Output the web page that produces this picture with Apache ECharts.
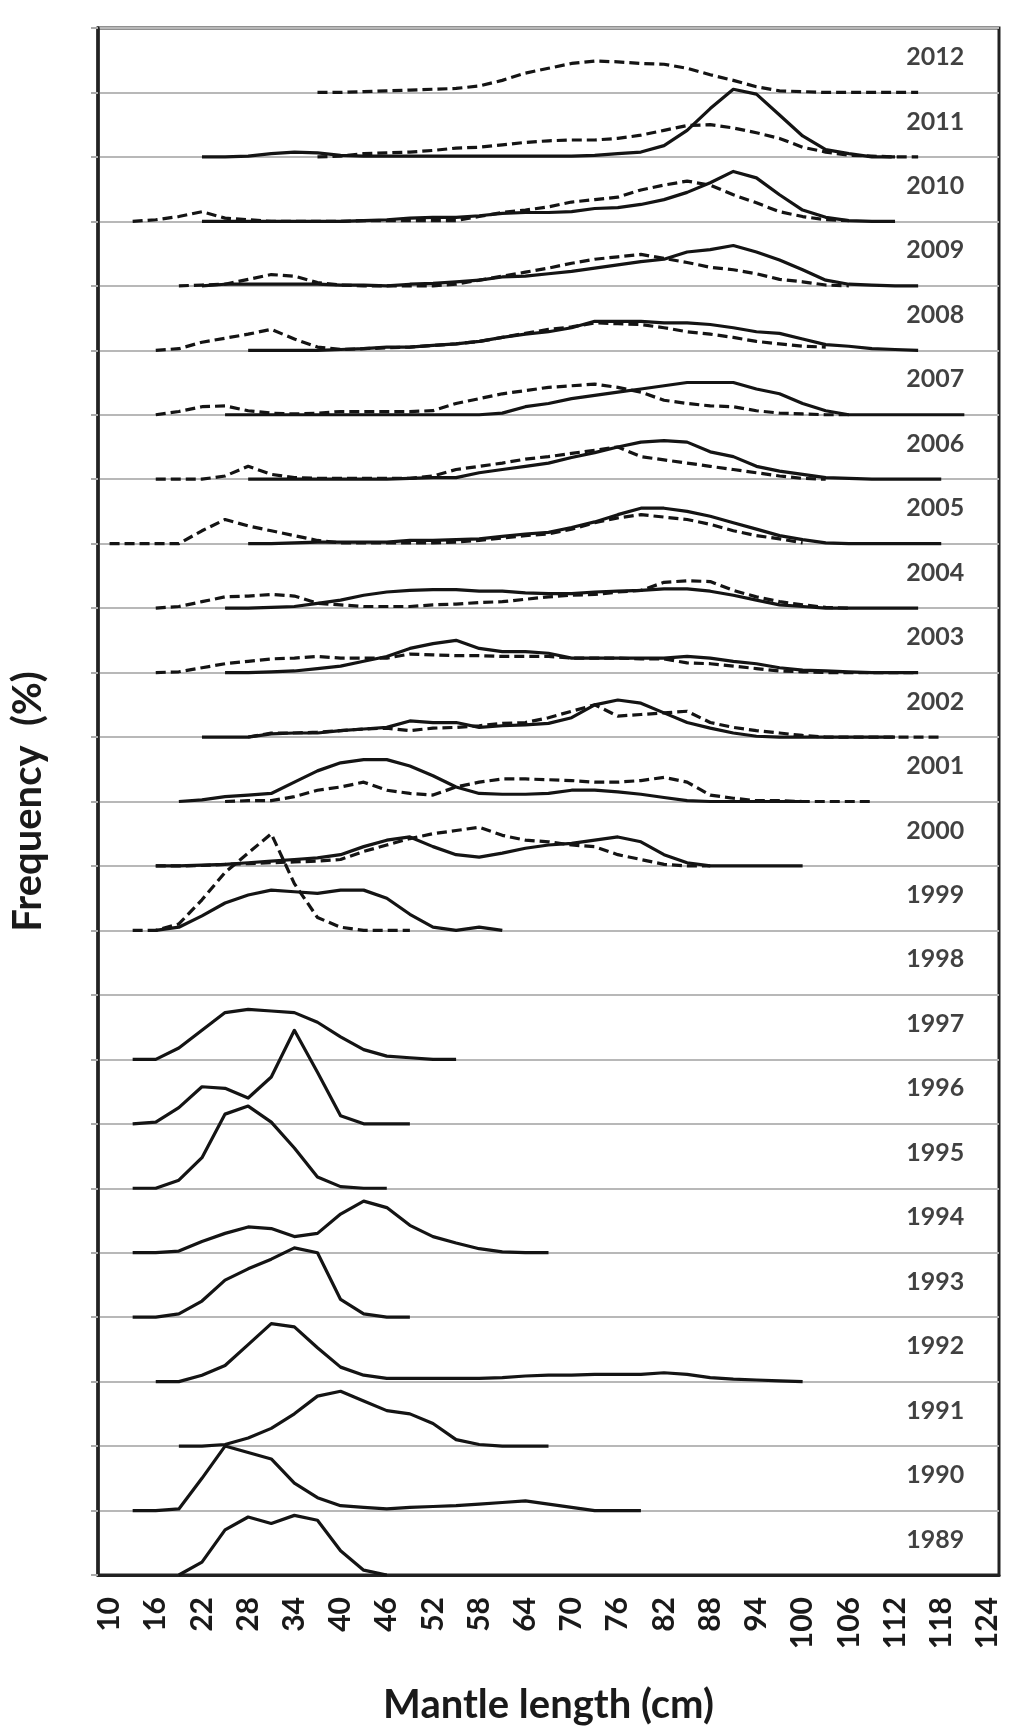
<!DOCTYPE html>
<html>
<head>
<meta charset="utf-8">
<script src="https://cdn.jsdelivr.net/npm/echarts@6/dist/echarts.min.js"></script>
<style>
  html, body { margin: 0; padding: 0; background: #fff; }
  #chart { width: 1020px; height: 1730px; }
</style>
</head>
<body>
<div id="chart"></div>
<script>
// mantle length classes, 3 cm wide
const bins = ['10','13','16','19','22','25','28','31','34','37','40','43','46','49','52','55','58','61','64',
  '67','70','73','76','79','82','85','88','91','94','97','100','103','106','109','112','115','118','121','124']
const years = [1989,1990,1991,1992,1993,1994,1995,1996,1997,1998,1999,2000,
  2001,2002,2003,2004,2005,2006,2007,2008,2009,2010,2011,2012]

// frequency (%) per class, starting at class "from"
const solid1989 = { from: 19, pct: [0,8,28,36,32,37,34,15,3,0] }
const solid1990 = { from: 13, pct: [0,0,1,20,40,36,32,17,8,3,2,1,2,2.5,3,4,5,6,4,2,0,0,0] }
const solid1991 = { from: 19, pct: [0,0,1,5,11,20,31,34,28,22,20,14,4,1,0,0,0] }
const solid1992 = { from: 16, pct: [0,0,4,10,23,36,34,21,9,4,2,2,2,2,2,2.5,3.5,4,4,4.5,4.5,4.5,5.5,4.5,2.5,1.5,1,0.5,0] }
const solid1993 = { from: 13, pct: [0,0,2,10,23,30,36,43,40,11,2,0,0] }
const solid1994 = { from: 13, pct: [0,0,1,7,12,16,15,10,12,24,32,28,17,10,6,2.5,0.5,0,0] }
const solid1995 = { from: 13, pct: [0,0,5,19,46,51,41,25,7,1,0,0] }
const solid1996 = { from: 13, pct: [0,1,10,23,22,16,29,58,32,5,0,0,0] }
const solid1997 = { from: 13, pct: [0,0,7,18,29,31,30,29,23,14,6,2,1,0,0] }
const solid1999 = { from: 16, pct: [0,2,9,17,22,25,24,23,25,25,20,10,2,0,2,0] }
const solid2000 = { from: 16, pct: [0,0,0.5,1,2,3,4,5,7,12,16,18,12,7,5.5,8,11,13,14,16,18,15,7,2,0,0,0,0,0] }
const solid2001 = { from: 19, pct: [0,1,3,4,5,12,19,24,26,26,22,16,9,5,4.5,4.5,5,7,7,6,4.5,2.5,0.5,0,0,0,0,0] }
const solid2002 = { from: 22, pct: [0,0,0,2,2.5,2.5,4,5,6,10,9,9,6,7,7.5,8.5,12,20,23,21,15,9,5.5,2.5,0.5,0,0,0,0,0,0] }
const solid2003 = { from: 25, pct: [0,0,0.5,1,2.5,4,7,10,15,18,20,15,13,13,12,9,9,9,9,9,10,9,7,5.5,3,1.5,1,0.5,0,0,0] }
const solid2004 = { from: 25, pct: [0,0,0.5,1,3,5,8,10,11,11.5,11.5,10.5,10.5,9.5,9,9,10,10.5,11,12,12,10.5,8,5,2,1,0,0,0,0,0] }
const solid2005 = { from: 28, pct: [0,0,0.5,1,1,1,1,2,2,2.5,3,4.5,6,7,10,13.5,18,22,22,20,17,13,9,5,2.5,0.5,0,0,0,0,0] }
const solid2006 = { from: 28, pct: [0,0,0,0,0,0,0,0.5,1,1,4,6,8,10,13.5,16.5,20,23,24,23,17,14,8,5,3,1,0.5,0,0,0,0] }
const solid2007 = { from: 25, pct: [0,0,0,0,0,0,0,0,0,0,0,0,1,5,7,10,12,14,16,18,20,20,20,16,13,7,2.5,0,0,0,0,0,0] }
const solid2008 = { from: 28, pct: [0,0,0,0,0.5,1,2,2,3,4,5.5,8,10,11.5,14,18,18,18,17,17,16,14,11.5,10.5,7,3.5,2.5,1,0.5,0] }
const solid2009 = { from: 22, pct: [0,1,1,1,1,1,0.5,0.5,0,1,1.5,2.5,3.5,5.5,6,7.5,9,11,13,15,16.5,21,22.5,25,21,16,10,3.5,1,0.5,0,0] }
const solid2010 = { from: 22, pct: [0,0,0,0,0,0,0,0.5,1,2,2.5,2.5,3.5,5,5.5,5.5,6,8,8.5,10.5,13.5,18,24,31,27,16.5,7,2.5,0.5,0,0] }
const solid2011 = { from: 22, pct: [0,0,0.5,2,3,2.5,1,0.5,0.5,0.5,0.5,0.5,0.5,0.5,0.5,0.5,0.5,1,2,3,7,16.5,30,42,39,26,13,4.5,2,0,0] }

const dashed1999 = { from: 13, pct: [0,0,4,19,36,48,60,29,8,2,0,0,0] }
const dashed2000 = { from: 16, pct: [0,0,0.3,1,1.5,2,2.5,3,4,9,13,17,20,22,24,19,16,15,13,12,7,4,1,0,0] }
const dashed2001 = { from: 25, pct: [0,0.5,0.5,3,7,9,12,7,5,4,9,12,14,14,13.5,13,12,12,13,15,12,4,2,0.5,0.5,0,0,0,0] }
const dashed2002 = { from: 28, pct: [0,2.5,2.5,3,4,5,5.5,4,5.5,6,7,8.5,9,12,16,20,13,14,15,16,9,6,4,2.5,1,0,0,0,0,0,0] }
const dashed2003 = { from: 16, pct: [0,0.5,3,5.5,7,8.5,9,10,9,9,9,11.5,11,10.5,10.5,10,10,10,9,9,9,8.5,8.5,6,5.5,4,2.5,1,0.5,0,0,0,0,0] }
const dashed2004 = { from: 16, pct: [0,1,4,7,7.5,8.5,7.5,3,2,1,1,1,2,2.5,3.5,4,5.5,7,8,8.5,10,11,16,17,16.5,11,7,4,2,0.5,0] }
const dashed2005 = { from: 10, pct: [0,0,0,0,8,15,11,8,5,2,0.5,0.5,0.5,0.5,0.5,1,2,3.5,5,6,9,13,16,18,16.5,15,12,8,5,3,0.5] }
const dashed2006 = { from: 16, pct: [0,0,0,2,8,3,1,0.5,0.5,0.5,0.5,0.5,2,6,8,10,12.5,14,16,18,20,14,12,10,8,6,4,2,0.5,0] }
const dashed2007 = { from: 16, pct: [0,2,5,5.5,2.5,1,0.5,1,2,2,2,2,2.5,7,10,13,15,17,18,19,17,14,9,7,5.5,5,2.5,1,0.5,0,0] }
const dashed2008 = { from: 16, pct: [0,1,5,7.5,10,13,7,2,0.5,1,1.5,2,3,4,5.5,8,10.5,13,14.5,17,16.5,16,14,11.5,10,8,5.5,4,2.5,2] }
const dashed2009 = { from: 19, pct: [0,0.5,1,4,7,6,2,0.5,0,0,0,0,1,3.5,6,8.5,11,14,16.5,18,19.5,17,14.5,11.5,10,7.5,4,2.5,0.5,0] }
const dashed2010 = { from: 13, pct: [0,1,3,6,2,1,0,0,0,0,0.5,0.5,0.5,0.5,0.5,3,5.5,7,9,12,13.5,15,19.5,22.5,25,22.5,16.5,11.5,6,3,1,0.5] }
const dashed2011 = { from: 37, pct: [0,0.5,2,2.5,3,4,5.5,6,7.5,9,10,10.5,10.5,11.5,13.5,16.5,19.5,20,18,15,11.5,6,3,1,0.5,0,0] }
const dashed2012 = { from: 37, pct: [0,0,0.5,1,1.5,2,2.5,4,7.5,12,15,18,19.5,19,18,17.5,15,11,7.5,3.5,1,0.5,0,0,0,0,0] }

// one entry per year (same order as years), null = no sample
const solidRows = [solid1989, solid1990, solid1991, solid1992, solid1993, solid1994, solid1995, solid1996,
  solid1997, null, solid1999, solid2000, solid2001, solid2002, solid2003, solid2004, solid2005, solid2006,
  solid2007, solid2008, solid2009, solid2010, solid2011, null]
const dashedRows = [null, null, null, null, null, null, null, null, null, null, dashed1999, dashed2000,
  dashed2001, dashed2002, dashed2003, dashed2004, dashed2005, dashed2006, dashed2007, dashed2008,
  dashed2009, dashed2010, dashed2011, dashed2012]

const ROW = 40 // vertical room for one year, in %
const FONT = 'Lato'

// lift a year's curve onto its own baseline
function stackRow(row, level) {
  const out = bins.map(() => null)
  const i0 = bins.indexOf(String(row.from))
  row.pct.forEach((v, k) => { out[i0 + k] = level * ROW + v })
  return out
}

function lineSeries(rows, dash) {
  const list = []
  rows.forEach((row, level) => {
    if (!row) return
    list.push({
      type: 'line',
      data: stackRow(row, level),
      showSymbol: false,
      silent: true,
      connectNulls: false,
      lineStyle: { color: '#141414', width: 3.2, type: dash ? [10, 5] : 'solid', join: 'round' },
      z: 3,
    })
  })
  return list
}

const chart = echarts.init(document.getElementById('chart'))
chart.setOption({
  animation: false,
  backgroundColor: '#fff',
  textStyle: { fontFamily: FONT },
  grid: { left: 70, top: 28, width: 929, height: 1565, show: true, borderColor: '#222', borderWidth: 3 },
  xAxis: {
    type: 'category',
    data: bins,
    boundaryGap: true,
    name: 'Mantle length (cm)',
    nameLocation: 'middle',
    nameGap: 110,
    nameTextStyle: { fontFamily: FONT, fontSize: 40, fontWeight: 'bold', color: '#1a1a1a' },
    axisLine: { lineStyle: { color: '#222', width: 3 } },
    axisTick: { show: false },
    axisLabel: { interval: 1, rotate: 90, margin: 22, fontFamily: FONT, fontSize: 30, fontWeight: 'bold', color: '#1a1a1a' },
    splitLine: { show: false },
  },
  yAxis: {
    type: 'value',
    min: 0,
    max: ROW * years.length,
    interval: ROW,
    name: 'Frequency  (%)',
    nameLocation: 'middle',
    nameRotate: 90,
    nameGap: 50,
    nameTextStyle: { fontFamily: FONT, fontSize: 40, fontWeight: 'bold', color: '#1a1a1a' },
    axisLine: { show: true, lineStyle: { color: '#222', width: 3.5 } },
    axisTick: { show: true, inside: false, length: 7, lineStyle: { color: '#aaa', width: 2 } },
    axisLabel: { show: false },
    splitLine: { show: true, lineStyle: { color: '#b8b8b8', width: 2 } },
  },
  series: [
    ...lineSeries(solidRows, false),
    ...lineSeries(dashedRows, true),
    {
      type: 'scatter',
      silent: true,
      symbolSize: 1,
      itemStyle: { color: 'transparent' },
      data: years.map((y, i) => ['118', i * ROW + ROW * 0.55]),
      label: {
        show: true,
        position: 'inside',
        offset: [-6, 0],
        formatter: p => String(years[p.dataIndex]),
        fontFamily: FONT,
        fontSize: 25,
        fontWeight: 'bold',
        color: '#111',
      },
      z: 4,
    },
  ],
})
</script>
</body>
</html>
